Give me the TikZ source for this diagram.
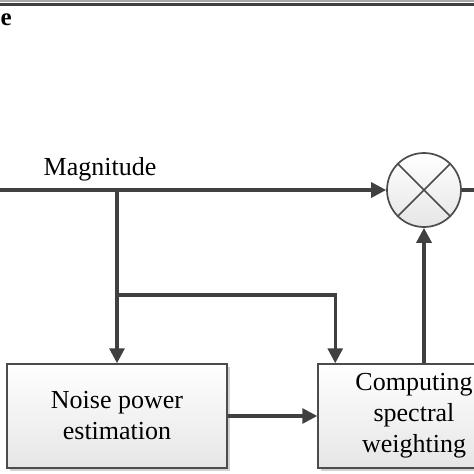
\documentclass[tikz,border=0pt]{standalone}
\usepackage{fontspec}
\setmainfont{Liberation Serif}
\usetikzlibrary{arrows.meta,shadows}

\tikzset{
  blk/.style={draw=black!70, line width=1.5pt, top color=white, bottom color=black!10,
    drop shadow={shadow xshift=3pt, shadow yshift=-3pt, fill=black!35},
    align=center, font=\fontsize{26}{31}\selectfont},
  sig/.style={draw=black!75, line width=3.2pt, -{Triangle[length=15pt,width=15pt]}},
  wire/.style={draw=black!75, line width=3.2pt},
}

\begin{document}
\begin{tikzpicture}[x=1pt, y=-1pt]
    \useasboundingbox (0,0) rectangle (474,474);
    \clip (0,0) rectangle (474,474);

    % frame edge and cut label
    \draw[black!35, line width=2pt] (0,1) -- (474,1);
    \draw[black!75, line width=3pt] (0,4.5) -- (474,4.5);
    \node[anchor=west, inner sep=0pt, font=\fontsize{25}{30}\selectfont\bfseries] (cut) at (0.5,20) {e};

    % blocks
    \node[blk, minimum width=220pt, minimum height=104pt] (noise) at (117,416) {Noise power\\estimation};
    \node[blk, minimum width=192pt, minimum height=104pt] (comp) at (414,416) {Computing\\spectral\\weighting};

    % multiplier
    \node[circle, draw=black!70, line width=1.7pt, top color=white, bottom color=black!10,
      minimum size=74pt, inner sep=0pt] (mult) at (424,190) {};
    \draw[black!70, line width=1.6pt] (mult.north west) -- (mult.south east);
    \draw[black!70, line width=1.6pt] (mult.north east) -- (mult.south west);

    % signal path
    \coordinate (in) at (0,190);
    \coordinate (split) at (117,190);
    \coordinate (tap) at (117,295);
    \coordinate (out) at (474,190);
    \node[font=\fontsize{26}{30}\selectfont] (mag) at (100,169) {Magnitude};

    \draw[sig] (in) -- (mult.west);
    \draw[wire] (mult.east) -- (out);
    \draw[sig] (split) -- (noise.north);
    \draw[sig] (tap) -| ([xshift=18pt]comp.north west);
    \draw[sig] (noise.east) -- (noise.east -| comp.west);
    \draw[sig] (mult |- comp.north) -- (mult.south);
  \end{tikzpicture}
\end{document}
